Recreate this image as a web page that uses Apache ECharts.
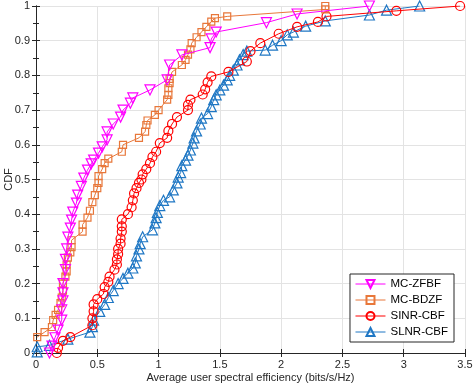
<!DOCTYPE html>
<html>
<head>
<meta charset="utf-8">
<script src="https://cdn.jsdelivr.net/npm/echarts@6/dist/echarts.min.js"></script>
<style>
html,body{margin:0;padding:0;background:#fff;}
#chart{width:474px;height:387px;}
</style>
</head>
<body>
<div id="chart"></div>
<script>
var seriesNames = ['MC-ZFBF', 'MC-BDZF', 'SINR-CBF', 'SLNR-CBF'];
var xTicks = [0, 0.5, 1, 1.5, 2, 2.5, 3, 3.5];
var yTicks = [0, 0.1, 0.2, 0.3, 0.4, 0.5, 0.6, 0.7, 0.8, 0.9, 1];

var zfbfX = [0.11,0.13,0.155,0.18,0.21,0.21,0.22,0.22,0.22,0.24,0.24,0.25,0.26,0.28,0.29,0.30,0.33,0.34,0.37,0.39,0.42,0.45,0.47,0.51,0.54,0.58,0.58,0.63,0.69,0.71,0.77,0.79,0.93,1.07,1.09,1.19,1.42,1.43,1.47,1.88,2.13,2.72];
var zfbfY = [0.00,0.02,0.044,0.066,0.095,0.124,0.15,0.173,0.20,0.24,0.27,0.30,0.334,0.36,0.383,0.406,0.432,0.455,0.48,0.504,0.527,0.545,0.556,0.576,0.594,0.614,0.637,0.66,0.68,0.70,0.72,0.735,0.758,0.787,0.83,0.859,0.88,0.905,0.925,0.952,0.977,1.0];

var bdzfX = [0.01,0.07,0.13,0.14,0.16,0.18,0.20,0.21,0.22,0.22,0.24,0.25,0.25,0.26,0.28,0.29,0.29,0.38,0.38,0.42,0.44,0.46,0.48,0.50,0.51,0.51,0.54,0.56,0.59,0.70,0.71,0.84,0.89,0.90,0.91,0.97,1.00,1.07,1.08,1.08,1.09,1.09,1.11,1.19,1.22,1.24,1.26,1.27,1.31,1.35,1.39,1.43,1.46,1.56,2.36,2.36];
var bdzfY = [0.046,0.06,0.075,0.095,0.11,0.124,0.144,0.16,0.18,0.20,0.22,0.235,0.255,0.275,0.29,0.305,0.325,0.35,0.37,0.39,0.41,0.435,0.455,0.475,0.49,0.51,0.53,0.547,0.56,0.58,0.60,0.62,0.638,0.657,0.67,0.686,0.70,0.73,0.744,0.763,0.778,0.79,0.81,0.83,0.845,0.86,0.875,0.893,0.91,0.925,0.94,0.955,0.965,0.97,0.99,1.0];

var sinrX = [0.17,0.18,0.22,0.28,0.46,0.46,0.47,0.47,0.50,0.55,0.56,0.59,0.60,0.64,0.66,0.66,0.67,0.67,0.69,0.69,0.70,0.70,0.70,0.75,0.78,0.79,0.80,0.82,0.84,0.86,0.87,0.90,0.93,0.95,0.98,1.01,1.07,1.08,1.11,1.15,1.24,1.24,1.26,1.36,1.38,1.40,1.43,1.57,1.72,1.75,1.83,1.98,2.13,2.30,2.37,2.94,3.46];
var sinrY = [0.0,0.015,0.035,0.046,0.08,0.10,0.12,0.14,0.155,0.17,0.19,0.205,0.22,0.24,0.255,0.27,0.285,0.30,0.315,0.33,0.35,0.365,0.385,0.40,0.42,0.44,0.46,0.475,0.49,0.50,0.515,0.53,0.547,0.565,0.58,0.605,0.62,0.64,0.66,0.68,0.70,0.715,0.73,0.745,0.76,0.78,0.797,0.81,0.84,0.87,0.893,0.92,0.94,0.954,0.97,0.986,1.0];

var slnrX = [0.01,0.01,0.11,0.26,0.44,0.46,0.47,0.52,0.56,0.59,0.63,0.67,0.71,0.75,0.79,0.81,0.82,0.84,0.85,0.87,0.95,0.97,0.98,0.99,1.01,1.04,1.09,1.12,1.15,1.16,1.18,1.19,1.22,1.24,1.26,1.28,1.29,1.31,1.34,1.35,1.40,1.43,1.45,1.47,1.50,1.53,1.56,1.58,1.61,1.64,1.66,1.69,1.72,1.87,1.93,2.00,2.05,2.10,2.20,2.36,2.72,2.86,3.13];
var slnrY = [0.003,0.018,0.022,0.04,0.06,0.076,0.095,0.12,0.14,0.16,0.18,0.20,0.215,0.23,0.245,0.26,0.28,0.30,0.315,0.335,0.355,0.375,0.39,0.405,0.425,0.44,0.45,0.47,0.49,0.507,0.52,0.54,0.556,0.57,0.585,0.605,0.62,0.64,0.66,0.677,0.69,0.71,0.73,0.744,0.758,0.772,0.787,0.80,0.815,0.83,0.845,0.86,0.87,0.873,0.887,0.90,0.917,0.925,0.942,0.957,0.974,0.988,1.0];

var colors = ['#ff00ff', '#e8773a', '#ff0000', '#1f77c4'];
var symbols = ['triangle', 'rect', 'circle', 'triangle'];
var symbolRotates = [180, 0, 0, 0];
var symbolSizes = [10, 7, 9, 10];

function pairs(xs, ys) { return xs.map(function (x, i) { return [x, ys[i]]; }); }
var allData = [pairs(zfbfX, zfbfY), pairs(bdzfX, bdzfY), pairs(sinrX, sinrY), pairs(slnrX, slnrY)];

var axisCol = '#262626';
var font = 'Liberation Sans, Arial, sans-serif';

var chart = echarts.init(document.getElementById('chart'), null, {renderer: 'canvas'});
var option = {
  animation: false,
  backgroundColor: '#fff',
  textStyle: {fontFamily: font},
  grid: {left: 36, right: 9, top: 6, bottom: 34, containLabel: false, outerBoundsMode: 'none'},
  xAxis: [{
    type: 'value', min: 0, max: 3.5, interval: 0.5,
    name: 'Average user spectral efficiency (bits/s/Hz)',
    nameLocation: 'middle', nameGap: 19, nameMoveOverlap: false,
    nameTextStyle: {color: axisCol, fontSize: 11, fontFamily: font},
    axisLine: {show: true, lineStyle: {color: axisCol, width: 1}},
    axisTick: {show: true, inside: true, length: 4, lineStyle: {color: axisCol}},
    axisLabel: {color: axisCol, fontSize: 11, margin: 6, fontFamily: font,
      formatter: function (v) { return String(v); }},
    splitLine: {show: true, lineStyle: {color: '#e3e3e3', width: 1}}
  }, {
    type: 'value', min: 0, max: 3.5, interval: 0.5, position: 'top',
    axisLine: {show: true, lineStyle: {color: axisCol, width: 1}},
    axisTick: {show: true, inside: true, length: 4, lineStyle: {color: axisCol}},
    axisLabel: {show: false}, splitLine: {show: false}
  }],
  yAxis: [{
    type: 'value', min: 0, max: 1, interval: 0.1,
    name: 'CDF', nameLocation: 'middle', nameGap: 22, nameMoveOverlap: false,
    nameTextStyle: {color: axisCol, fontSize: 11, fontFamily: font},
    axisLine: {show: true, lineStyle: {color: axisCol, width: 1}},
    axisTick: {show: true, inside: true, length: 4, lineStyle: {color: axisCol}},
    minorTick: {show: true, splitNumber: 2, length: 3, lineStyle: {color: axisCol}},
    axisLabel: {color: axisCol, fontSize: 11, margin: 6, fontFamily: font,
      formatter: function (v) { return String(Math.round(v * 10) / 10); }},
    splitLine: {show: true, lineStyle: {color: '#e3e3e3', width: 1}}
  }, {
    type: 'value', min: 0, max: 1, interval: 0.1, position: 'right',
    axisLine: {show: true, lineStyle: {color: axisCol, width: 1}},
    axisTick: {show: true, inside: true, length: 4, lineStyle: {color: axisCol}},
    minorTick: {show: true, splitNumber: 2, length: 3, lineStyle: {color: axisCol}},
    axisLabel: {show: false}, splitLine: {show: false}
  }],
  legend: {
    orient: 'vertical', right: 20, bottom: 45,
    backgroundColor: '#fff', borderColor: axisCol, borderWidth: 1,
    padding: [4, 6, 4, 5], itemGap: 4, itemWidth: 30, itemHeight: 10,
    lineStyle: {width: 1},
    textStyle: {color: '#000', fontSize: 11.5, fontFamily: font},
    data: seriesNames
  },
  series: seriesNames.map(function (name, i) {
    return {
      name: name, type: 'line', xAxisIndex: 0, yAxisIndex: 0,
      data: allData[i],
      symbol: symbols[i], symbolRotate: symbolRotates[i], symbolSize: symbolSizes[i],
      showAllSymbol: true,
      lineStyle: {color: colors[i], width: 1},
      itemStyle: {color: 'rgba(255,255,255,0)', borderColor: colors[i], borderWidth: 1.2},
      emphasis: {disabled: true},
      z: 10 - i
    };
  })
};
chart.setOption(option);
</script>
</body>
</html>
